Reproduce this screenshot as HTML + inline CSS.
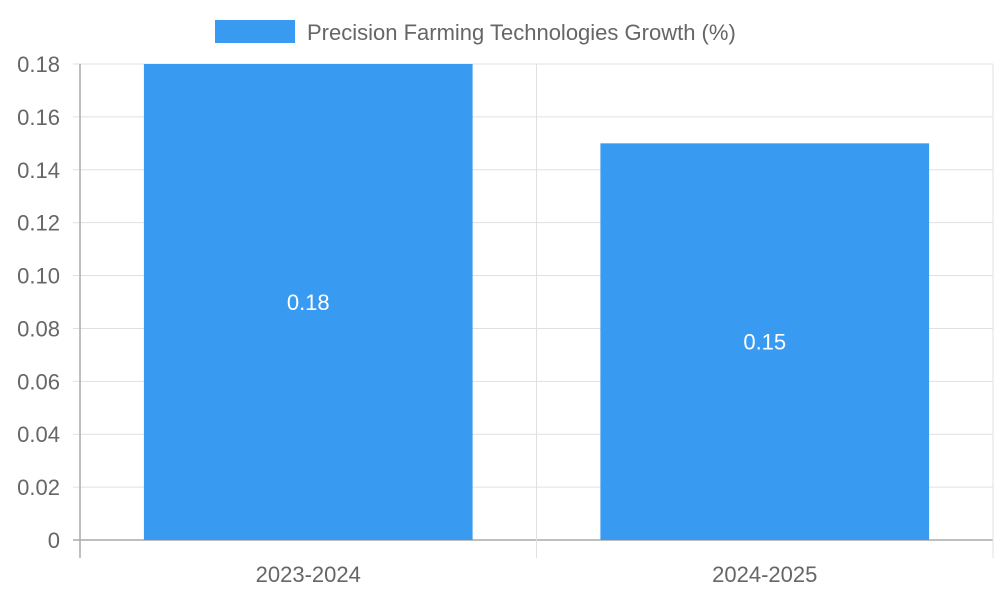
<!DOCTYPE html>
<html><head><meta charset="utf-8"><style>
html,body{margin:0;padding:0;background:#fff;}
svg{display:block;font-family:"Liberation Sans",sans-serif;}
</style></head><body>
<svg id="chart" width="1000" height="600">
  <g>
    <rect x="215" y="20" width="80" height="23" fill="#389bf1"></rect>
    <text x="307" y="40" font-size="22" fill="#666">Precision Farming Technologies Growth (%)</text>
  </g>
  <g id="grid"></g><g id="bars"></g><g id="labels"></g>
</svg>
<script>
const categories = ["2023-2024", "2024-2025"];
const growthValues = [0.18, 0.15];
const yTicks = [0, 0.02, 0.04, 0.06, 0.08, 0.10, 0.12, 0.14, 0.16, 0.18];
const yTickLabels = ["0", "0.02", "0.04", "0.06", "0.08", "0.10", "0.12", "0.14", "0.16", "0.18"];

const NS = "http://www.w3.org/2000/svg";
const L = 80, R = 993, T = 64, B = 540, yMax = 0.18;
const y = v => B - (v / yMax) * (B - T);
const bandW = (R - L) / categories.length;
const x = i => L + bandW * i;
function mk(tag, attrs, parent, txt) {
  const e = document.createElementNS(NS, tag);
  for (const k in attrs) e.setAttribute(k, attrs[k]);
  if (txt !== undefined) e.textContent = txt;
  document.getElementById(parent).appendChild(e);
  return e;
}
yTicks.forEach((t, i) => {
  const g = mk("line", {x1: 73, x2: R, y1: y(t), y2: y(t), stroke: i === 0 ? "#aaa" : "#e0e0e0", "stroke-width": i === 0 ? 1.5 : 1}, "grid");
  
  
  const lb = mk("text", {x: 60, y: y(t) + 8, "text-anchor": "end", "font-size": 22, fill: "#666"}, "labels", yTickLabels[i]);
  
  
});
for (let i = 0; i <= categories.length; i++) {
  const v = mk("line", {x1: x(i), x2: x(i), y1: T, y2: 558, stroke: i === 0 ? "#aaa" : "#e0e0e0", "stroke-width": i === 0 ? 1.5 : 1}, "grid");
  
  
}
categories.forEach((c, i) => {
  const bw = bandW * 0.72, bx = x(i) + (bandW - bw) / 2;
  const r = mk("rect", {x: bx, y: y(growthValues[i]), width: bw, height: B - y(growthValues[i]), fill: "#389bf1"}, "bars");
  
  
  const vl = mk("text", {x: bx + bw / 2, y: (y(growthValues[i]) + B) / 2 + 8, "text-anchor": "middle", "font-size": 22, fill: "#fff"}, "labels", String(growthValues[i]));
  
  
  const xl = mk("text", {x: x(i) + bandW / 2, y: 582, "text-anchor": "middle", "font-size": 22, fill: "#666"}, "labels", c);
  
  
});
</script>
</body></html>
